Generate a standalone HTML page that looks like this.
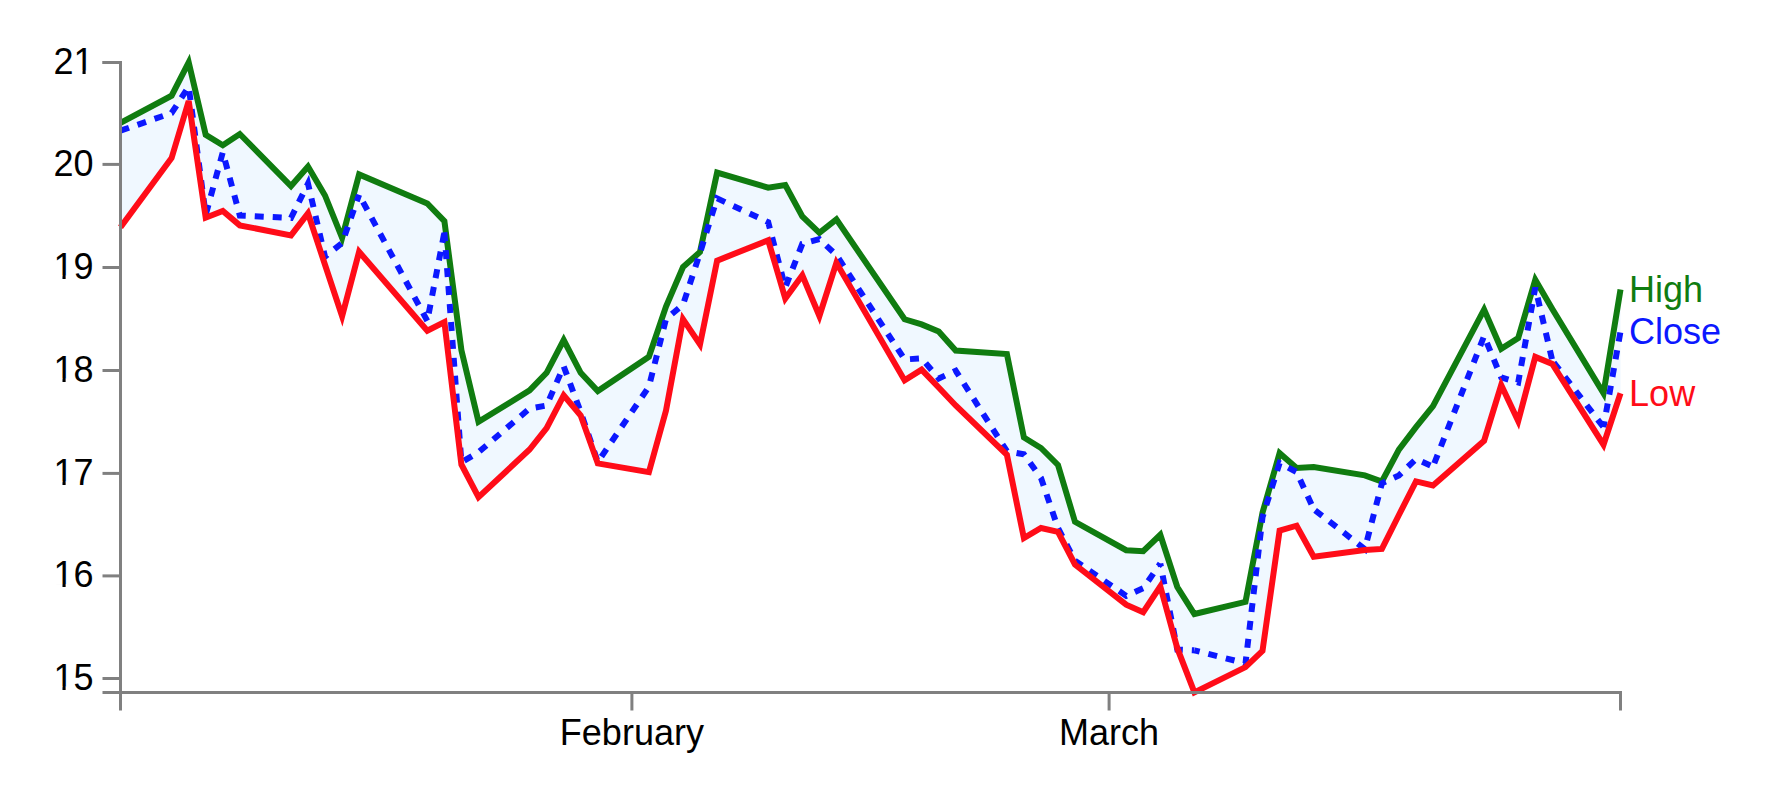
<!DOCTYPE html>
<html><head><meta charset="utf-8"><style>
html,body{margin:0;padding:0;background:#fff;}
svg{display:block;}
text{font-family:"Liberation Sans",Arial,Helvetica,sans-serif;font-size:36px;}
</style></head><body>
<svg width="1766" height="796" viewBox="0 0 1766 796">
<path d="M120.5,122.9L171.6,95.7L188.7,62.3L205.7,134.8L222.8,145.2L239.8,134L291,186L308,166.5L325,195.5L342.1,237.8L359.1,174.4L427.3,203.5L444.4,221.2L461.4,350.2L478.5,421.8L529.6,390.4L546.6,372.8L563.7,340.1L580.7,372.8L597.8,391L648.9,356.7L666,306.5L683,267.1L700,252L717.1,172.5L768.2,187.6L785.3,185L802.3,216.5L819.4,232.8L836.4,219.4L904.6,319.3L921.6,324.4L938.7,331.5L955.7,350.6L1006.9,354L1023.9,437.5L1041,448L1058,465L1075,521.8L1126.2,550.2L1143.2,551.2L1160.3,534.8L1177.3,587L1194.4,614L1245.5,601.8L1262.5,512.7L1279.6,453.2L1296.6,467.9L1313.7,467L1364.8,475.4L1381.9,481.5L1398.9,449.6L1416,427.2L1433,406.1L1484.1,309.6L1501.2,348.8L1518.2,338L1535.3,279.8L1552.3,309L1603.5,393.2L1620.5,289.6L1620.5,393.2L1603.5,444.7L1552.3,364L1535.3,356.9L1518.2,421L1501.2,385L1484.1,440.7L1433,485.4L1416,481.4L1398.9,515L1381.9,548.9L1364.8,550L1313.7,556.8L1296.6,525.7L1279.6,530.5L1262.5,650.8L1245.5,667.1L1194.4,692.4L1177.3,648.2L1160.3,586.3L1143.2,612.2L1126.2,604.7L1075,564.5L1058,531.8L1041,528L1023.9,538.1L1006.9,454.8L955.7,405.5L938.7,387.5L921.6,369.6L904.6,380.4L836.4,262.8L819.4,316L802.3,275.3L785.3,298.5L768.2,240.3L717.1,260.6L700,344.5L683,319.2L666,410.6L648.9,472.2L597.8,463.4L580.7,415.5L563.7,395.4L546.6,428.1L529.6,449.5L478.5,497.2L461.4,464.5L444.4,322L427.3,330.7L359.1,251.8L342.1,316.3L325,264.8L308,213.3L291,235.4L239.8,225.4L222.8,211L205.7,217.7L188.7,101L171.6,158L120.5,227.3Z" fill="#f0f8ff"/>
<path d="M120.5,122.9L171.6,95.7L188.7,62.3L205.7,134.8L222.8,145.2L239.8,134L291,186L308,166.5L325,195.5L342.1,237.8L359.1,174.4L427.3,203.5L444.4,221.2L461.4,350.2L478.5,421.8L529.6,390.4L546.6,372.8L563.7,340.1L580.7,372.8L597.8,391L648.9,356.7L666,306.5L683,267.1L700,252L717.1,172.5L768.2,187.6L785.3,185L802.3,216.5L819.4,232.8L836.4,219.4L904.6,319.3L921.6,324.4L938.7,331.5L955.7,350.6L1006.9,354L1023.9,437.5L1041,448L1058,465L1075,521.8L1126.2,550.2L1143.2,551.2L1160.3,534.8L1177.3,587L1194.4,614L1245.5,601.8L1262.5,512.7L1279.6,453.2L1296.6,467.9L1313.7,467L1364.8,475.4L1381.9,481.5L1398.9,449.6L1416,427.2L1433,406.1L1484.1,309.6L1501.2,348.8L1518.2,338L1535.3,279.8L1552.3,309L1603.5,393.2L1620.5,289.6" fill="none" stroke="#107c10" stroke-width="6"/>
<g fill="none" stroke="#0c18ff" stroke-width="6" stroke-dasharray="9,9"><path d="M120.5,130.7L171.6,113L188.7,86.7L205.7,214.8L222.8,152.2"/><path d="M222.8,152.2L239.8,215.5L291,218L308,183.5L325,256.7L342.1,243L359.1,194.8" stroke-dashoffset="9.50"/><path d="M359.1,194.8L427.3,320.9" stroke-dashoffset="9.70"/><path d="M427.3,320.9L444.4,232.2" stroke-dashoffset="10.40"/><path d="M444.4,232.2L461.4,462.3L478.5,452.2L529.6,408.5L546.6,405.5L563.7,366.3L580.7,412L597.8,462L648.9,386.7L666,319L683,304.7L700,253L717.1,198.4L768.2,222.2L785.3,287.5L802.3,243.8L819.4,239.2L836.4,255L904.6,359.5L921.6,358.3L938.7,378.5L955.7,370.7L1006.9,451.2L1023.9,454.3L1041,478L1058,528L1075,560.7L1126.2,595.9L1143.2,588.3L1160.3,563.5"/><path d="M1160.3,563.5L1177.3,649.5L1194.4,650.3" stroke-dashoffset="5.80"/><path d="M1194.4,650.3L1245.5,663.3L1262.5,517.2L1279.6,463L1296.6,472L1313.7,509.3" stroke-dashoffset="3.60"/><path d="M1313.7,509.3L1364.8,549L1381.9,483.3L1398.9,475.4L1416,459L1433,466.6" stroke-dashoffset="16.20"/><path d="M1433,466.6L1484.1,336L1501.2,377.4L1518.2,382.5L1535.3,287.6L1552.3,360.5" stroke-dashoffset="14.40"/><path d="M1552.3,360.5L1603.5,427.1" stroke-dashoffset="15.50"/><path d="M1603.5,427.1L1620.5,331.5" stroke-dashoffset="3.00"/></g>
<path d="M120.5,227.3L171.6,158L188.7,101L205.7,217.7L222.8,211L239.8,225.4L291,235.4L308,213.3L325,264.8L342.1,316.3L359.1,251.8L427.3,330.7L444.4,322L461.4,464.5L478.5,497.2L529.6,449.5L546.6,428.1L563.7,395.4L580.7,415.5L597.8,463.4L648.9,472.2L666,410.6L683,319.2L700,344.5L717.1,260.6L768.2,240.3L785.3,298.5L802.3,275.3L819.4,316L836.4,262.8L904.6,380.4L921.6,369.6L938.7,387.5L955.7,405.5L1006.9,454.8L1023.9,538.1L1041,528L1058,531.8L1075,564.5L1126.2,604.7L1143.2,612.2L1160.3,586.3L1177.3,648.2L1194.4,692.4L1245.5,667.1L1262.5,650.8L1279.6,530.5L1296.6,525.7L1313.7,556.8L1364.8,550L1381.9,548.9L1398.9,515L1416,481.4L1433,485.4L1484.1,440.7L1501.2,385L1518.2,421L1535.3,356.9L1552.3,364L1603.5,444.7L1620.5,393.2" fill="none" stroke="#ff0c18" stroke-width="6"/>
<g fill="none" stroke="#808080" stroke-width="3">
<path d="M102.5,62.5H120.5V692.5H102.5"/>
<line x1="102.5" x2="120.5" y1="62.5" y2="62.5"/><line x1="102.5" x2="120.5" y1="164.4" y2="164.4"/><line x1="102.5" x2="120.5" y1="267.5" y2="267.5"/><line x1="102.5" x2="120.5" y1="370.5" y2="370.5"/><line x1="102.5" x2="120.5" y1="473.4" y2="473.4"/><line x1="102.5" x2="120.5" y1="575.9" y2="575.9"/><line x1="102.5" x2="120.5" y1="678.5" y2="678.5"/>
<path d="M120.5,710.5V692.5H1620.5V710.5"/>
<line x1="631.9" x2="631.9" y1="692.5" y2="710.5"/><line x1="1109.1" x2="1109.1" y1="692.5" y2="710.5"/>
</g>
<g fill="#000" text-anchor="end"><text x="93.5" y="62.5" dy="0.32em">21</text><text x="93.5" y="164.4" dy="0.32em">20</text><text x="93.5" y="267.5" dy="0.32em">19</text><text x="93.5" y="370.5" dy="0.32em">18</text><text x="93.5" y="473.4" dy="0.32em">17</text><text x="93.5" y="575.9" dy="0.32em">16</text><text x="93.5" y="678.5" dy="0.32em">15</text></g>
<g fill="#fff"><rect x="74.98" y="70.62" width="7.52" height="4"/><rect x="85.63" y="70.62" width="7.5" height="4"/><rect x="54.97" y="275.62" width="7.52" height="4"/><rect x="65.62" y="275.62" width="7.5" height="4"/><rect x="54.97" y="378.62" width="7.52" height="4"/><rect x="65.62" y="378.62" width="7.5" height="4"/><rect x="54.97" y="481.52" width="7.52" height="4"/><rect x="65.62" y="481.52" width="7.5" height="4"/><rect x="54.97" y="584.02" width="7.52" height="4"/><rect x="65.62" y="584.02" width="7.5" height="4"/><rect x="54.97" y="686.62" width="7.52" height="4"/><rect x="65.62" y="686.62" width="7.5" height="4"/></g>
<g fill="#000" text-anchor="middle"><text x="631.9" y="719.5" dy="0.71em">February</text><text x="1109.1" y="719.5" dy="0.71em">March</text></g>
<text x="1629.1" y="289.6" dy="0.35em" fill="#107c10">High</text>
<text x="1629.1" y="331.5" dy="0.35em" fill="#0c18ff">Close</text>
<text x="1629.1" y="393.2" dy="0.35em" fill="#ff0c18">Low</text>
</svg>
</body></html>
